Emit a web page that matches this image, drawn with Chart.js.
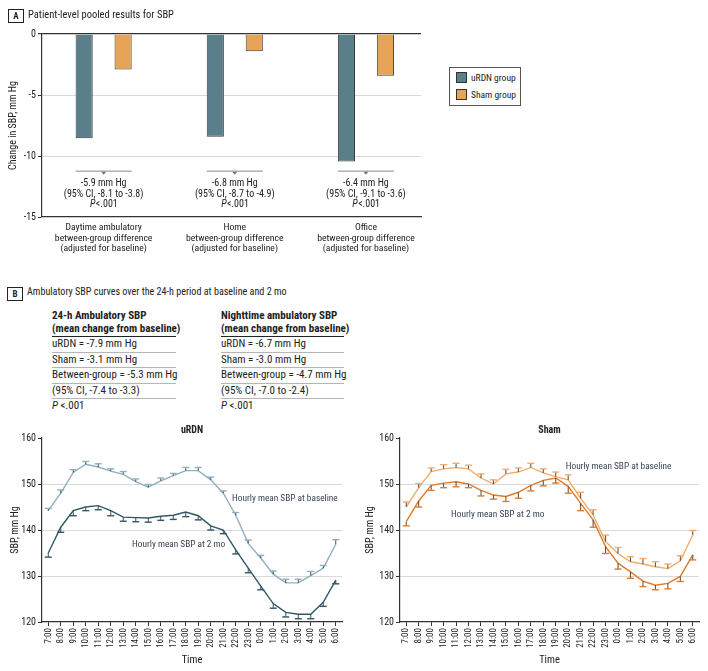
<!DOCTYPE html>
<html>
<head>
<meta charset="utf-8">
<script src="https://cdn.jsdelivr.net/npm/chart.js@4.4.0/dist/chart.umd.min.js"></script>
<style>
  body { margin: 0; width: 708px; height: 671px; position: relative; background: #fff; overflow: hidden;
         font-family: 'Roboto Condensed', 'DejaVu Sans Condensed', sans-serif; color: #222; }
  .abs { position: absolute; }
  .plabel { position: absolute; border: 1px solid #222; font-weight: bold; font-size: 9px; width: 14px; height: 12px;
            line-height: 12px; text-align: center; }
  .ptitle { position: absolute; font-size: 10.5px; white-space: nowrap; }
  .legend { position: absolute; left: 449px; top: 67px; width: 70px; height: 37px; border: 1px solid #555; }
  .legend .item { position: absolute; left: 6px; font-size: 9.5px; white-space: nowrap; line-height: 11px; }
  .legend .sw { display: inline-block; width: 9px; height: 9px; border: 1px solid #333; vertical-align: -2px; margin-right: 4px; }
  .tbl { position: absolute; top: 310px; font-size: 11px; }
  .tbl .hd { font-weight: bold; line-height: 12.5px; border-bottom: 1px solid #222; padding-bottom: 1px; white-space: nowrap; }
  .tbl .row { height: 14.6px; line-height: 14.6px; border-bottom: 1px solid #b5b5b5; white-space: nowrap; }
  .tbl .row:last-child { border-bottom: none; }
  canvas { display: block; }
</style>
</head>
<body>

<div class="abs" style="left:0;top:0;width:440px;height:262px"><canvas id="chartA"></canvas></div>
<div class="plabel" style="left:8px;top:9px">A</div>
<div class="ptitle" style="left:28px;top:8px">Patient-level pooled results for SBP</div>

<div class="legend">
  <div class="item" style="top:4px"><span class="sw" style="background:#5a7f8b"></span>uRDN group</div>
  <div class="item" style="top:21px"><span class="sw" style="background:#e8a456"></span>Sham group</div>
</div>

<div class="plabel" style="left:7px;top:287px">B</div>
<div class="ptitle" style="left:27px;top:286px;font-size:10.1px">Ambulatory SBP curves over the 24-h period at baseline and 2 mo</div>

<div class="tbl" id="tblLeft" style="left:52px;width:124px"></div>
<div class="tbl" id="tblRight" style="left:221px;width:123px"></div>

<div class="abs" style="left:0;top:420px;width:350px;height:251px"><canvas id="chartU"></canvas></div>
<div class="abs" style="left:355px;top:420px;width:353px;height:251px"><canvas id="chartS"></canvas></div>

<script>
// ---- Panel A: pooled change in SBP ----
const groupLabels = [
  ['Daytime ambulatory', 'between-group difference', '(adjusted for baseline)'],
  ['Home', 'between-group difference', '(adjusted for baseline)'],
  ['Office', 'between-group difference', '(adjusted for baseline)']
];
const urdnChange = [-8.55, -8.42, -10.45];
const shamChange = [-2.92, -1.42, -3.42];
const diffText = ['-5.9 mm Hg', '-6.8 mm Hg', '-6.4 mm Hg'];
const ciText = ['(95% CI, -8.1 to -3.8)', '(95% CI, -8.7 to -4.9)', '(95% CI, -9.1 to -3.6)'];
const bracketLevel = -11.2;
const changeTicks = [0, -5, -10, -15];

// ---- Panel B: table ----
const tblLeftHead = ['24-h Ambulatory SBP', '(mean change from baseline)'];
const tblLeftRows = ['uRDN = -7.9 mm Hg', 'Sham = -3.1 mm Hg', 'Between-group = -5.3 mm Hg', '(95% CI, -7.4 to -3.3)'];
const tblRightHead = ['Nighttime ambulatory SBP', '(mean change from baseline)'];
const tblRightRows = ['uRDN = -6.7 mm Hg', 'Sham = -3.0 mm Hg', 'Between-group = -4.7 mm Hg', '(95% CI, -7.0 to -2.4)'];

// ---- Panel B: hourly curves ----
const hours = ['7:00','8:00','9:00','10:00','11:00','12:00','13:00','14:00','15:00','16:00','17:00','18:00',
               '19:00','20:00','21:00','22:00','23:00','0:00','1:00','2:00','3:00','4:00','5:00','6:00'];
const sbpTicks = [120, 130, 140, 150, 160];

const urdnBase    = [144.2,148.0,152.5,154.3,153.7,152.8,152.1,150.5,149.3,150.7,151.8,152.9,152.9,150.9,148.0,143.2,137.1,133.9,130.4,128.5,128.5,130.1,131.7,136.9];
const urdnBaseCap = [144.7,148.7,153.1,154.9,154.4,153.3,152.7,151.1,149.9,151.3,152.3,153.6,153.6,151.5,148.5,143.8,137.8,134.5,131.1,129.3,129.3,131.0,132.3,137.9];
const urdn2mo     = [135.0,140.6,144.2,145.0,145.3,144.2,142.8,142.7,142.6,143.0,143.2,143.9,143.1,140.9,140.0,135.7,131.7,127.8,124.0,122.1,121.7,121.7,124.3,129.1];
const urdn2moCap  = [134.1,139.5,143.1,144.2,144.4,143.1,141.9,141.8,141.7,142.1,142.3,142.9,142.2,140.0,139.2,134.8,130.7,127.0,123.0,121.1,120.7,120.7,123.4,128.3];

const shamBase    = [145.0,149.2,152.7,153.3,153.6,153.3,151.3,150.0,152.2,152.6,153.6,152.4,151.6,150.9,146.9,143.3,137.5,134.9,133.1,132.6,132.0,131.6,133.3,138.9];
const shamBaseCap = [146.1,150.1,153.5,154.2,154.5,154.1,152.2,150.9,153.2,153.5,154.5,153.3,152.6,152.0,148.2,144.4,138.9,136.2,134.2,133.8,133.1,132.6,134.4,139.9];
const sham2mo     = [141.8,146.3,149.7,150.2,150.5,150.0,148.6,147.6,147.3,148.2,149.7,150.8,151.3,149.5,145.8,142.2,136.4,132.8,130.9,128.9,128.0,128.4,129.9,134.6];
const sham2moCap  = [140.9,145.0,148.6,149.2,149.4,149.2,147.4,146.7,146.2,146.9,148.5,149.6,150.2,148.0,144.2,140.6,134.9,131.5,129.5,127.7,127.0,127.2,128.8,133.5];

const FONT = "'Roboto Condensed', 'DejaVu Sans Condensed', sans-serif";
Chart.defaults.font.family = FONT;
Chart.defaults.color = '#222';
Chart.defaults.animation = false;

// tabla HTML
function fillTable(id, head, rows) {
  const el = document.getElementById(id);
  let html = '<div class="hd">' + head.join('<br>') + '</div>';
  rows.forEach(r => { html += '<div class="row">' + r + '</div>'; });
  html += '<div class="row"><i>P</i> &lt;.001</div>';
  el.innerHTML = html;
}
fillTable('tblLeft', tblLeftHead, tblLeftRows);
fillTable('tblRight', tblRightHead, tblRightRows);

// "P<.001" con P en cursiva
function drawPValue(ctx, cx, cy, size) {
  ctx.font = 'italic ' + size + 'px ' + FONT;
  const wP = ctx.measureText('P').width;
  ctx.font = size + 'px ' + FONT;
  const wR = ctx.measureText('<.001').width;
  const x0 = cx - (wP + wR) / 2;
  ctx.textAlign = 'left';
  ctx.font = 'italic ' + size + 'px ' + FONT;
  ctx.fillText('P', x0, cy);
  ctx.font = size + 'px ' + FONT;
  ctx.fillText('<.001', x0 + wP + 0.5, cy);
}

// --- plugin: etiquetas y corchetes del panel A ---
const panelAPlugin = {
  id: 'panelA',
  afterDatasetsDraw(chart) {
    const { ctx, chartArea, scales: { x, y } } = chart;
    const m0 = chart.getDatasetMeta(0), m1 = chart.getDatasetMeta(1);
    ctx.save();
    ctx.textBaseline = 'middle';
    m0.data.forEach((bar, i) => {
      const b2 = m1.data[i];
      const left = bar.x - bar.width / 2, right = b2.x + b2.width / 2;
      const cx = (left + right) / 2;
      const yb = y.getPixelForValue(bracketLevel);
      ctx.strokeStyle = '#8a8a8a';
      ctx.lineWidth = 1;
      ctx.beginPath(); ctx.moveTo(left, yb + 0.5); ctx.lineTo(right, yb + 0.5); ctx.stroke();
      ctx.fillStyle = '#777';
      ctx.beginPath(); ctx.moveTo(cx - 2.5, yb + 1); ctx.lineTo(cx + 2.5, yb + 1); ctx.lineTo(cx, yb + 4); ctx.closePath(); ctx.fill();
      ctx.fillStyle = '#222';
      ctx.textAlign = 'center';
      ctx.font = '10px ' + FONT;
      ctx.fillText(diffText[i], cx, yb + 13);
      ctx.fillText(ciText[i], cx, yb + 23.5);
      drawPValue(ctx, cx, yb + 34, 10);
      // categorías bajo el eje
      const gx = x.getPixelForValue(i);
      ctx.textAlign = 'center';
      ctx.font = '9.7px ' + FONT;
      groupLabels[i].forEach((t, k) => ctx.fillText(t, gx, chartArea.bottom + 10.5 + k * 10.7));
    });
    ctx.restore();
  }
};

new Chart(document.getElementById('chartA'), {
  type: 'bar',
  data: {
    datasets: [
      { label: 'uRDN group', data: urdnChange.map((v, i) => ({ x: i, y: v })), backgroundColor: '#5a7f8b',
        borderColor: '#3b3b3b', borderWidth: 1, categoryPercentage: 0.594, barPercentage: 0.44 },
      { label: 'Sham group', data: shamChange.map((v, i) => ({ x: i, y: v })), backgroundColor: '#e8a456',
        borderColor: '#3b3b3b', borderWidth: 1, categoryPercentage: 0.594, barPercentage: 0.44 }
    ]
  },
  options: {
    responsive: true, maintainAspectRatio: false,
    layout: { padding: { top: 34, right: 19, left: 0, bottom: 0 } },
    plugins: { legend: { display: false }, tooltip: { enabled: false } },
    scales: {
      x: {
        type: 'linear', min: -0.47, max: 2.42, offset: false,
        afterBuildTicks: s => { s.ticks = groupLabels.map((g, i) => ({ value: i })); },
        ticks: { display: false }, grid: { display: false, offset: false },
        border: { display: true, color: '#333', width: 1.2 },
        afterFit: s => { s.height = 45; }
      },
      y: {
        min: -15, max: 0,
        afterBuildTicks: s => { s.ticks = changeTicks.map(v => ({ value: v })); },
        ticks: { font: { size: 10 }, padding: 2, color: '#222' },
        grid: {
          color: c => c.tick.value === 0 ? '#333' : (c.tick.value === -15 ? 'rgba(0,0,0,0)' : '#d9d9d9'),
          tickColor: '#333', tickLength: 4, lineWidth: c => c.tick.value === 0 ? 1.2 : 1
        },
        border: { color: '#333', width: 1.2 },
        title: { display: true, text: 'Change in SBP, mm Hg', font: { size: 10 }, padding: { top: 7, bottom: 0 } },
        afterFit: s => { s.width = 42; }
      }
    }
  },
  plugins: [panelAPlugin]
});

// --- plugin: barras de error de un solo lado ---
const errorBarPlugin = {
  id: 'errBars',
  afterDatasetsDraw(chart) {
    const { ctx, scales: { y } } = chart;
    ctx.save();
    chart.data.datasets.forEach((ds, di) => {
      const meta = chart.getDatasetMeta(di);
      meta.data.forEach((pt, i) => {
        const yc = y.getPixelForValue(ds.errCaps[i]);
        ctx.strokeStyle = '#4a4a4a';
        ctx.lineWidth = 1;
        ctx.beginPath(); ctx.moveTo(pt.x, pt.y); ctx.lineTo(pt.x, yc); ctx.stroke();
        ctx.strokeStyle = ds.borderColor;
        ctx.lineWidth = 1.4;
        ctx.beginPath(); ctx.moveTo(pt.x - 3.5, yc); ctx.lineTo(pt.x + 3.5, yc); ctx.stroke();
      });
    });
    ctx.restore();
  }
};

// --- plugin: título y etiquetas de las curvas ---
const curveLabelPlugin = {
  id: 'curveLabels',
  afterDraw(chart, args, opts) {
    const { ctx, chartArea, scales: { x, y } } = chart;
    ctx.save();
    ctx.textBaseline = 'middle';
    ctx.fillStyle = '#222';
    ctx.textAlign = 'center';
    ctx.font = 'bold 10px ' + FONT;
    ctx.fillText(opts.title, (chartArea.left + chartArea.right) / 2, chartArea.top - 8);
    ctx.textAlign = 'left';
    ctx.font = '9.3px ' + FONT;
    ctx.fillStyle = '#3a4354';
    opts.labels.forEach(l => {
      const px = x.getPixelForValue(0) + l.at * (x.getPixelForValue(1) - x.getPixelForValue(0));
      ctx.fillText(l.text, px, y.getPixelForValue(l.value));
    });
    ctx.restore();
  }
};

function curveChart(id, title, base, baseCap, twoMo, twoMoCap, baseColor, twoMoColor, labels, axisW, padRight) {
  return new Chart(document.getElementById(id), {
    type: 'line',
    data: {
      labels: hours,
      datasets: [
        { label: 'Hourly mean SBP at baseline', data: base, errCaps: baseCap, borderColor: baseColor,
          borderWidth: 1.4, pointRadius: 0, tension: 0 },
        { label: 'Hourly mean SBP at 2 mo', data: twoMo, errCaps: twoMoCap, borderColor: twoMoColor,
          borderWidth: 1.4, pointRadius: 0, tension: 0 }
      ]
    },
    options: {
      responsive: true, maintainAspectRatio: false,
      layout: { padding: { top: 18, right: padRight, left: 0, bottom: 0 } },
      plugins: { legend: { display: false }, tooltip: { enabled: false }, curveLabels: { title: title, labels: labels } },
      scales: {
        x: {
          offset: true,
          ticks: { minRotation: 90, maxRotation: 90, autoSkip: false, font: { size: 9 }, padding: 2, color: '#222' },
          grid: { drawOnChartArea: false, tickLength: 4, color: '#333', offset: false },
          border: { color: '#333', width: 1.2 },
          title: { display: true, text: 'Time', font: { size: 10.5 }, padding: { top: 0, bottom: 4 } },
          afterFit: s => { s.height = 49; }
        },
        y: {
          min: 120, max: 160,
          afterBuildTicks: s => { s.ticks = sbpTicks.map(v => ({ value: v })); },
          ticks: { font: { size: 10 }, padding: 2, color: '#222' },
          grid: {
            color: c => (c.tick.value > 120 && c.tick.value < 160) ? '#d9d9d9' : 'rgba(0,0,0,0)',
            tickColor: '#333', tickLength: 4
          },
          border: { color: '#333', width: 1.2 },
          title: { display: true, text: 'SBP, mm Hg', font: { size: 10 }, padding: { top: 9, bottom: 0 } },
          afterFit: s => { s.width = axisW; }
        }
      }
    },
    plugins: [errorBarPlugin, curveLabelPlugin]
  });
}

curveChart('chartU', 'uRDN', urdnBase, urdnBaseCap, urdn2mo, urdn2moCap, '#8fb0bf', '#2e5866',
  [{ text: 'Hourly mean SBP at baseline', at: 14.7, value: 146.8 },
   { text: 'Hourly mean SBP at 2 mo', at: 6.7, value: 136.8 }], 42, 8);

curveChart('chartS', 'Sham', shamBase, shamBaseCap, sham2mo, sham2moCap, '#f2ad6c', '#e07b2a',
  [{ text: 'Hourly mean SBP at baseline', at: 12.8, value: 153.7 },
   { text: 'Hourly mean SBP at 2 mo', at: 3.6, value: 143.3 }], 45, 9);
</script>
</body>
</html>
